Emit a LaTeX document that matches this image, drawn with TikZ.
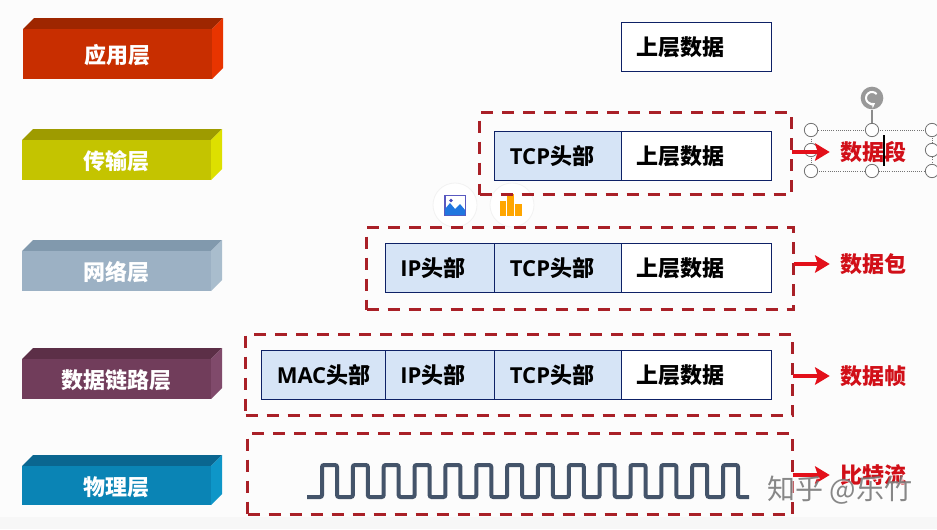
\documentclass[tikz,border=0pt]{standalone}
\usepackage{fontspec}
\setmainfont{Noto Sans CJK SC}
\newfontfamily\latinbf{Open Sans}
\usetikzlibrary{arrows.meta}
\definecolor{dashred}{HTML}{A92027}
\definecolor{arrred}{HTML}{E3101A}
\definecolor{hdrfill}{HTML}{D6E4F6}
\definecolor{cellline}{HTML}{0E2166}
\definecolor{wavecol}{HTML}{44546A}
\definecolor{appF}{HTML}{C82E00}\definecolor{appT}{HTML}{9E2600}\definecolor{appS}{HTML}{E83400}
\definecolor{traF}{HTML}{C4C400}\definecolor{traT}{HTML}{9E9B00}\definecolor{traS}{HTML}{DDE000}
\definecolor{netF}{HTML}{9CB1C4}\definecolor{netT}{HTML}{8199AD}\definecolor{netS}{HTML}{A9BDCD}
\definecolor{lnkF}{HTML}{713D5B}\definecolor{lnkT}{HTML}{5C2F47}\definecolor{lnkS}{HTML}{804A6B}
\definecolor{phyF}{HTML}{0A84B5}\definecolor{phyT}{HTML}{0A6690}\definecolor{phyS}{HTML}{0E96C8}
\tikzset{
  layerlabel/.style={font=\fontsize{16.5}{18}\selectfont\bfseries,text=white,inner sep=0pt},
  cell/.style={draw=cellline,line width=0.7pt,font=\fontsize{16.5}{18}\selectfont\bfseries,text=black,inner sep=0pt,outer sep=0pt,minimum height=36.75pt,anchor=north west,xshift=0.375pt,yshift=-0.375pt},
  hdr/.style={cell,fill=hdrfill},
  dat/.style={cell,fill=white},
  dashbox/.style={draw=dashred,line width=2.2pt,dash pattern=on 9pt off 6.75pt,inner sep=0pt,outer sep=0pt,anchor=north west,xshift=0.375pt,yshift=-0.375pt},
  redlabel/.style={font=\fontsize{16.5}{18}\selectfont\bfseries,text=arrred!92!black,inner sep=0pt},
  redarrow/.style={draw=arrred,line width=3pt,-{Stealth[length=11pt,width=13pt,inset=2pt]}},
  handle/.style={circle,draw=black!55,fill=white,line width=0.6pt,minimum size=10pt,inner sep=0pt},
  badge/.style={circle,fill=white,draw=black!5,line width=0.6pt,minimum size=33pt,inner sep=0pt}
}
\newcommand{\layerblock}[7]{% x-left, y-top, y-bottom, front, top, side, label
  \fill[fill=#5] (#1,#2) -- ++(11,-11) -- ++(189,0) -- ++(-11,11) -- cycle;
  \fill[fill=#6] (#1+189,#2) -- ++(11,-11) -- (#1+200,#3-11) -- (#1+189,#3) -- cycle;
  \fill[fill=#4] (#1,#2) rectangle (#1+189,#3);
  \node[layerlabel] at (#1+94,#2/2+#3/2+1.5) {#7};
}
\newcommand{\dataText}{上层数据\hspace*{24pt}}
\newcommand{\tcpText}{{\latinbf TCP}头部\hspace*{9pt}}
\newcommand{\ipText}{{\latinbf IP}头部\hspace*{10.5pt}}
\begin{document}
\begin{tikzpicture}[x=0.75pt,y=-0.75pt]
\useasboundingbox (0,0) rectangle (937,529);
\fill[black!1] (0,0) rectangle (937,529);
\fill[black!3] (0,517) rectangle (937,529);

\layerblock{23}{29}{79}{appF}{appT}{appS}{应用层}
\layerblock{22}{140}{180}{traF}{traT}{traS}{传输层}
\layerblock{22}{251}{291}{netF}{netT}{netS}{网络层}
\layerblock{22}{359}{399}{lnkF}{lnkT}{lnkS}{数据链路层}
\layerblock{22}{466}{505}{phyF}{phyT}{phyS}{物理层}

% floating toolbar badges
\node[badge] (imgbadge) at (455,205) {};
\node[badge] (barbadge) at (512,205) {};
\draw[draw=blue!45!gray!90,fill=white,line width=1.2pt] (445,195.5) rectangle (465.5,215.5);
\fill[blue!55!cyan!75!gray] (445,215) -- (445,209) -- (450,203) -- (455,209) -- (460,204) -- (465,210) -- (465,215) -- cycle;
\fill[blue!45!gray] (451,200.5) circle (1.8);
\fill[orange!70!yellow] (500,201) rectangle (506,216);
\fill[orange!70!yellow] (507,194) rectangle (514,216);
\fill[orange!70!yellow] (515,204) rectangle (522,216);

% dashed frames
\node[dashbox,minimum width=234pt,minimum height=61.5pt] (seg) at (479,112) {};
\node[dashbox,minimum width=320.25pt,minimum height=61.5pt] (pkt) at (366,227) {};
\node[dashbox,minimum width=410.25pt,minimum height=60.75pt] (frm) at (245,334) {};
\node[dashbox,minimum width=408.75pt,minimum height=60.75pt] (bit) at (247,433) {};

% cells
\node[dat,minimum width=112.5pt] (d0) at (621,22) {\dataText};
\node[hdr,minimum width=95.25pt] (t1) at (494,131) {\tcpText};
\node[dat,minimum width=112.5pt] (d1) at (621,131) {\dataText};
\node[hdr,minimum width=81.75pt] (i2) at (385,243) {\ipText};
\node[hdr,minimum width=95.25pt] (t2) at (494,243) {\tcpText};
\node[dat,minimum width=112.5pt] (d2) at (621,243) {\dataText};
\node[hdr,minimum width=93pt] (m3) at (261,350) {{\latinbf MAC}头部};
\node[hdr,minimum width=81.75pt] (i3) at (385,350) {\ipText};
\node[hdr,minimum width=95.25pt] (t3) at (494,350) {\tcpText};
\node[dat,minimum width=112.5pt] (d3) at (621,350) {\dataText};

% selection frame
\draw[black!55,densely dotted,line width=0.6pt] (811,130) rectangle (932,171);
\node[circle,fill=black!40,minimum size=17pt,inner sep=0pt] (rot) at (872,98) {};
\draw[white,line width=1.5pt,-{Stealth[length=3.5pt,width=5pt]}] (876.6,94.1) arc[start angle=-40,end angle=-300,radius=6];
\node[handle] (htop) at (872,130) {};
\draw[black!45,line width=0.8pt] (rot) -- (htop);
\node[handle] at (811,130) {};
\node[handle] at (932,130) {};
\node[handle] at (811,150) {};
\node[handle] at (932,150) {};
\node[handle] at (811,171) {};
\node[handle] at (872,171) {};
\node[handle] at (932,171) {};

% labels and arrows
\node[redlabel] (l1) at (873,152) {数据段};
\node[redlabel] (l2) at (873,264) {数据包};
\node[redlabel] (l3) at (873,376) {数据帧};
\node[redlabel] (l4) at (873,475) {比特流};
\draw[redarrow] (seg.east |- l1) -- ([xshift=-7.5pt]l1.west);
\draw[redarrow] (pkt.east |- l2) -- ([xshift=-7.5pt]l2.west);
\draw[redarrow] (frm.east |- l3) -- ([xshift=-7.5pt]l3.west);
\draw[redarrow] (bit.east |- l4) -- ([xshift=-7.5pt]l4.west);
\draw[black,line width=0.8pt] (884,135) -- (884,166);

% square wave
\draw[wavecol,line width=3pt,rounded corners=1.5pt] (307,497) -- (322,497)
  \foreach \k in {0,...,12} { -- ({322+30.85*\k},465) -- ({337+30.85*\k},465) -- ({337+30.85*\k},497) -- ({322+30.85*(\k+1)},497) }
  -- (723,465) -- (738,465) -- (738,497) -- (749,497);

% watermark
\node[font=\fontsize{21}{23}\selectfont,text=white,opacity=.7,inner sep=0pt] at (841,491) {知乎 @乐竹};
\node[font=\fontsize{21}{23}\selectfont,text=black!55,opacity=.85,inner sep=0pt] (wm) at (840,490) {知乎 @乐竹};
\end{tikzpicture}
\end{document}
